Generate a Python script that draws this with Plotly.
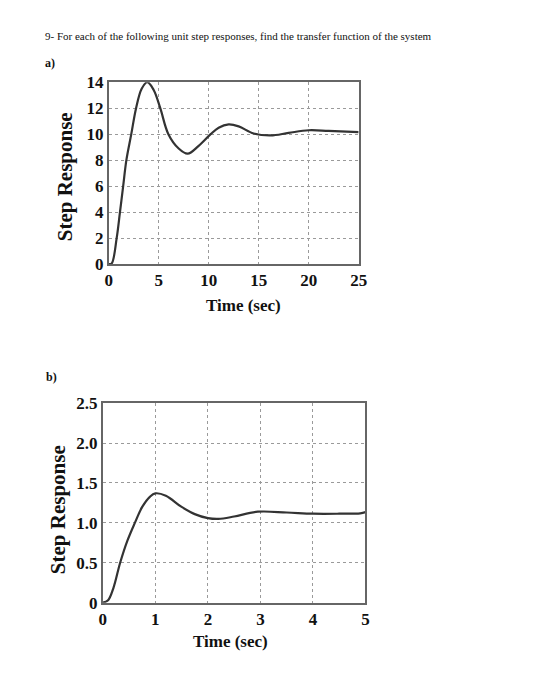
import plotly.graph_objects as go

# step response a)
t_a = [0, 0.3, 0.8, 1.13, 1.45, 1.77, 2.26, 2.74, 3.3, 3.87, 4.5, 5.16, 5.97, 7.0, 7.9,
       9.0, 10.2, 11.0, 12.0, 13.0, 14.5, 16.2, 18.0, 20.0, 22.0, 25]
y_a = [0, 0.05, 2, 4, 6, 8, 10, 12, 13.5, 14, 13.4, 12, 10, 8.9, 8.5,
       9.1, 10, 10.5, 10.75, 10.6, 10.05, 9.9, 10.1, 10.3, 10.25, 10.15]

# step response b)
t_b = [0, 0.1, 0.2, 0.33, 0.47, 0.61, 0.75, 0.9, 1.0, 1.2, 1.5, 1.75, 2.0, 2.2,
       2.5, 2.95, 3.5, 4.0, 4.5, 4.9, 5.0]
y_b = [0, 0.03, 0.18, 0.5, 0.78, 1.0, 1.2, 1.33, 1.37, 1.34, 1.2, 1.11, 1.06, 1.05,
       1.08, 1.14, 1.13, 1.115, 1.115, 1.12, 1.135]

ticks_a_x = [0, 5, 10, 15, 20, 25]
ticks_a_y = [0, 2, 4, 6, 8, 10, 12, 14]
ticks_b_x = [0, 1, 2, 3, 4, 5]
ticks_b_y = [0, 0.5, 1.0, 1.5, 2.0, 2.5]
labels_b_y = ['0', '0.5', '1.0', '1.5', '2.0', '2.5']

W, H = 553, 700
OFF = 8  # page body margin, positions below are page pixels
serif = 'Liberation Serif, Times New Roman, serif'
line_col = '#333333'


def px(x):
    return (x - OFF) / W


def py(y):
    return (H - (y - OFF)) / H


fig = go.Figure()
fig.add_trace(go.Scatter(x=t_a, y=y_a, mode='lines', line=dict(color=line_col, width=2.2, shape='spline'),
                         xaxis='x', yaxis='y', showlegend=False))
fig.add_trace(go.Scatter(x=t_b, y=y_b, mode='lines', line=dict(color=line_col, width=2.2, shape='spline'),
                         xaxis='x2', yaxis='y2', showlegend=False))

axis_common = dict(showgrid=True, gridcolor='#9a9a9a', griddash='dot', gridwidth=1,
                   showline=True, linecolor='#666', linewidth=1.6, mirror=True,
                   zeroline=False, ticks='', tickfont=dict(family=serif, size=17, color='#111'))

fig.update_layout(
    width=W, height=H,
    margin=dict(l=0, r=0, t=0, b=0),
    paper_bgcolor='white', plot_bgcolor='white',
    xaxis=dict(axis_common, domain=[px(107), px(363)], range=[0, 25], tickvals=ticks_a_x,
               ticktext=['<b>%d</b>' % v for v in ticks_a_x], anchor='y'),
    yaxis=dict(axis_common, domain=[py(262), py(75)], range=[0, 14], tickvals=ticks_a_y,
               ticktext=['<b>%d</b>' % v for v in ticks_a_y], anchor='x'),
    xaxis2=dict(axis_common, domain=[px(101), px(370)], range=[0, 5], tickvals=ticks_b_x,
                ticktext=['<b>%d</b>' % v for v in ticks_b_x], anchor='y2'),
    yaxis2=dict(axis_common, domain=[py(610), py(405)], range=[0, 2.5], tickvals=ticks_b_y,
                ticktext=['<b>%s</b>' % s for s in labels_b_y], anchor='x2'),
)

# axis titles
for txt, x, y, ang, size in [('Step Response', 62, 172, -90, 21), ('Time (sec)', 245, 305, 0, 17),
                             ('Step Response', 55, 514, -90, 21), ('Time (sec)', 232, 650, 0, 17)]:
    fig.add_annotation(text='<b>%s</b>' % txt, x=px(x), y=py(y), xref='paper', yref='paper',
                       xanchor='center', yanchor='middle', textangle=ang, showarrow=False,
                       font=dict(family=serif, size=size, color='#111'))

fig.add_annotation(text='9- For each of the following unit step responses, find the transfer function of the system',
                   x=px(40), y=py(28), xref='paper', yref='paper', xanchor='left', yanchor='middle',
                   showarrow=False, font=dict(family=serif, size=11, color='#111'))
fig.add_annotation(text='<b>a)</b>', x=px(40), y=py(55), xref='paper', yref='paper',
                   xanchor='left', yanchor='middle', showarrow=False, font=dict(family=serif, size=12, color='#111'))
fig.add_annotation(text='<b>b)</b>', x=px(41), y=py(378), xref='paper', yref='paper',
                   xanchor='left', yanchor='middle', showarrow=False, font=dict(family=serif, size=12, color='#111'))

fig.write_html('out.html')
